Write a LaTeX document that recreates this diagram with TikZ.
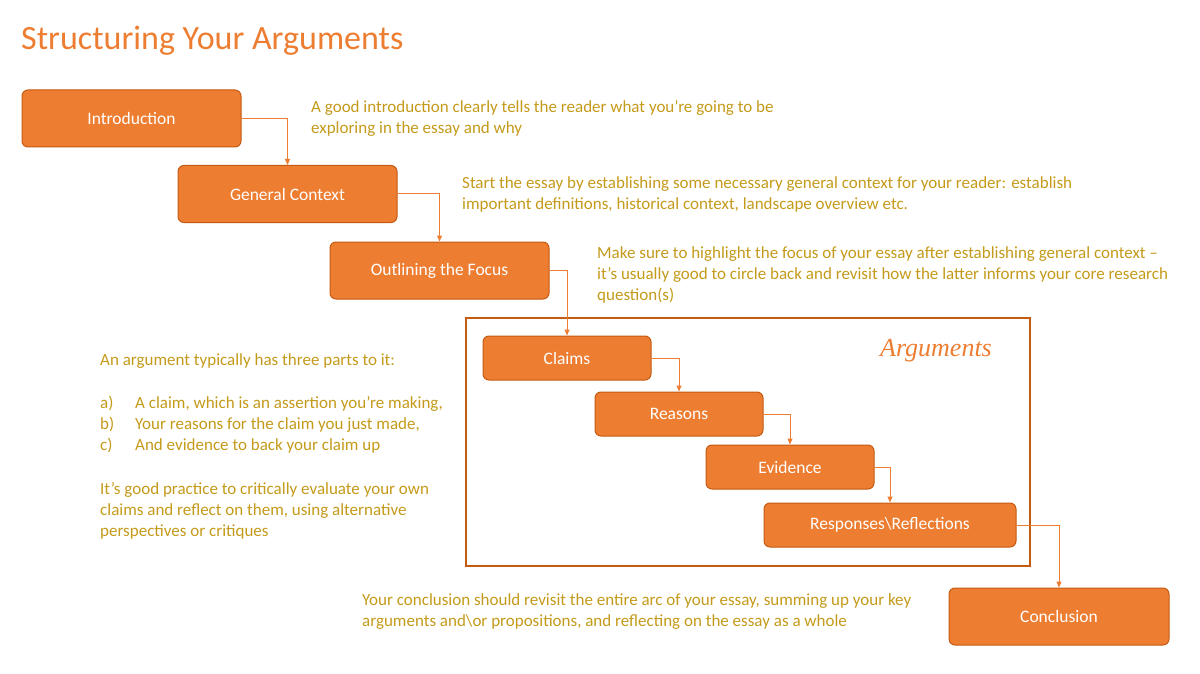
\documentclass[tikz,border=0pt]{standalone}
\usepackage{fontspec}
\setmainfont{Carlito}
\newfontfamily\serifit{Liberation Serif}
\usetikzlibrary{arrows.meta,positioning}
\definecolor{boxorange}{HTML}{ED7D31}
\definecolor{boxedge}{HTML}{C55A11}
\definecolor{notegold}{HTML}{C49A1A}
\newcommand{\itemlabel}[1]{\makebox[35pt][l]{#1}}

\begin{document}
\begin{tikzpicture}[x=1pt,y=-1pt,
    stage/.style={rectangle,rounded corners=6pt,fill=boxorange,draw=boxedge,line width=1pt,
      text=white,font=\fontsize{17.5}{20}\selectfont,minimum height=44pt},
    big/.style={minimum height=57pt},
    note/.style={anchor=north west,inner sep=0pt,align=left,text=notegold,
      font=\fontsize{17}{21.3}\selectfont},
    link/.style={draw=boxorange,line width=1pt,-{Triangle[length=6pt,width=5pt]}}]
    \useasboundingbox (0,0) rectangle (1200,674);
    \node[anchor=west,inner sep=0pt,text=boxorange,font=\fontsize{34}{40}\selectfont] (title) at (21,41) {Structuring Your Arguments};
    % main chain
    \node[stage,big,minimum width=219pt] (intro) at (131.5,118.5) {Introduction};
    \node[stage,big,minimum width=219pt] (context) at (287.5,194) {General Context};
    \node[stage,big,minimum width=219pt] (focus) at (439.5,270.5) {Outlining the Focus};
    % the argument block
    \draw[boxedge,line width=2.5pt] (466,318) rectangle (1030,566);
    \node[text=boxorange,font=\serifit\itshape\fontsize{26}{30}\selectfont] (argtitle) at (936,351) {Arguments};
    \node[stage,minimum width=168pt] (claims) at (567,358) {Claims};
    \node[stage,minimum width=168pt] (reasons) at (679,414) {Reasons};
    \node[stage,minimum width=168pt] (evidence) at (790,467) {Evidence};
    \node[stage,minimum width=252pt] (responses) at (890,525) {Responses\textbackslash Reflections};
    \node[stage,big,minimum width=220pt] (conclusion) at (1059,616.5) {Conclusion};
    % connectors
    \path[link] (intro) -| (context);
    \path[link] (context) -| (focus);
    \path[link] (focus) -| (claims);
    \path[link] (claims) -| (reasons);
    \path[link] (reasons) -| (evidence);
    \path[link] (evidence) -| (responses);
    \path[link] (responses) -| (conclusion);
    % notes
    \node[note] (introtext) at (311,100) {A good introduction clearly tells the reader what you’re going to be\\exploring in the essay and why};
    \node[note] (contexttext) at (462,176) {Start the essay by establishing some necessary general context for your reader: establish\\important definitions, historical context, landscape overview etc.};
    \node[note] (focustext) at (597,246) {Make sure to highlight the focus of your essay after establishing general context –\\it’s usually good to circle back and revisit how the latter informs your core research\\question(s)};
    \node[note] (argtext) at (100,353) {An argument typically has three parts to it:\\[22pt]
      \itemlabel{a)}A claim, which is an assertion you’re making,\\
      \itemlabel{b)}Your reasons for the claim you just made,\\
      \itemlabel{c)}And evidence to back your claim up\\[22pt]
      It’s good practice to critically evaluate your own\\claims and reflect on them, using alternative\\perspectives or critiques};
    \node[note] (conctext) at (362,593) {Your conclusion should revisit the entire arc of your essay, summing up your key\\arguments and\textbackslash or propositions, and reflecting on the essay as a whole};
\end{tikzpicture}
\end{document}
